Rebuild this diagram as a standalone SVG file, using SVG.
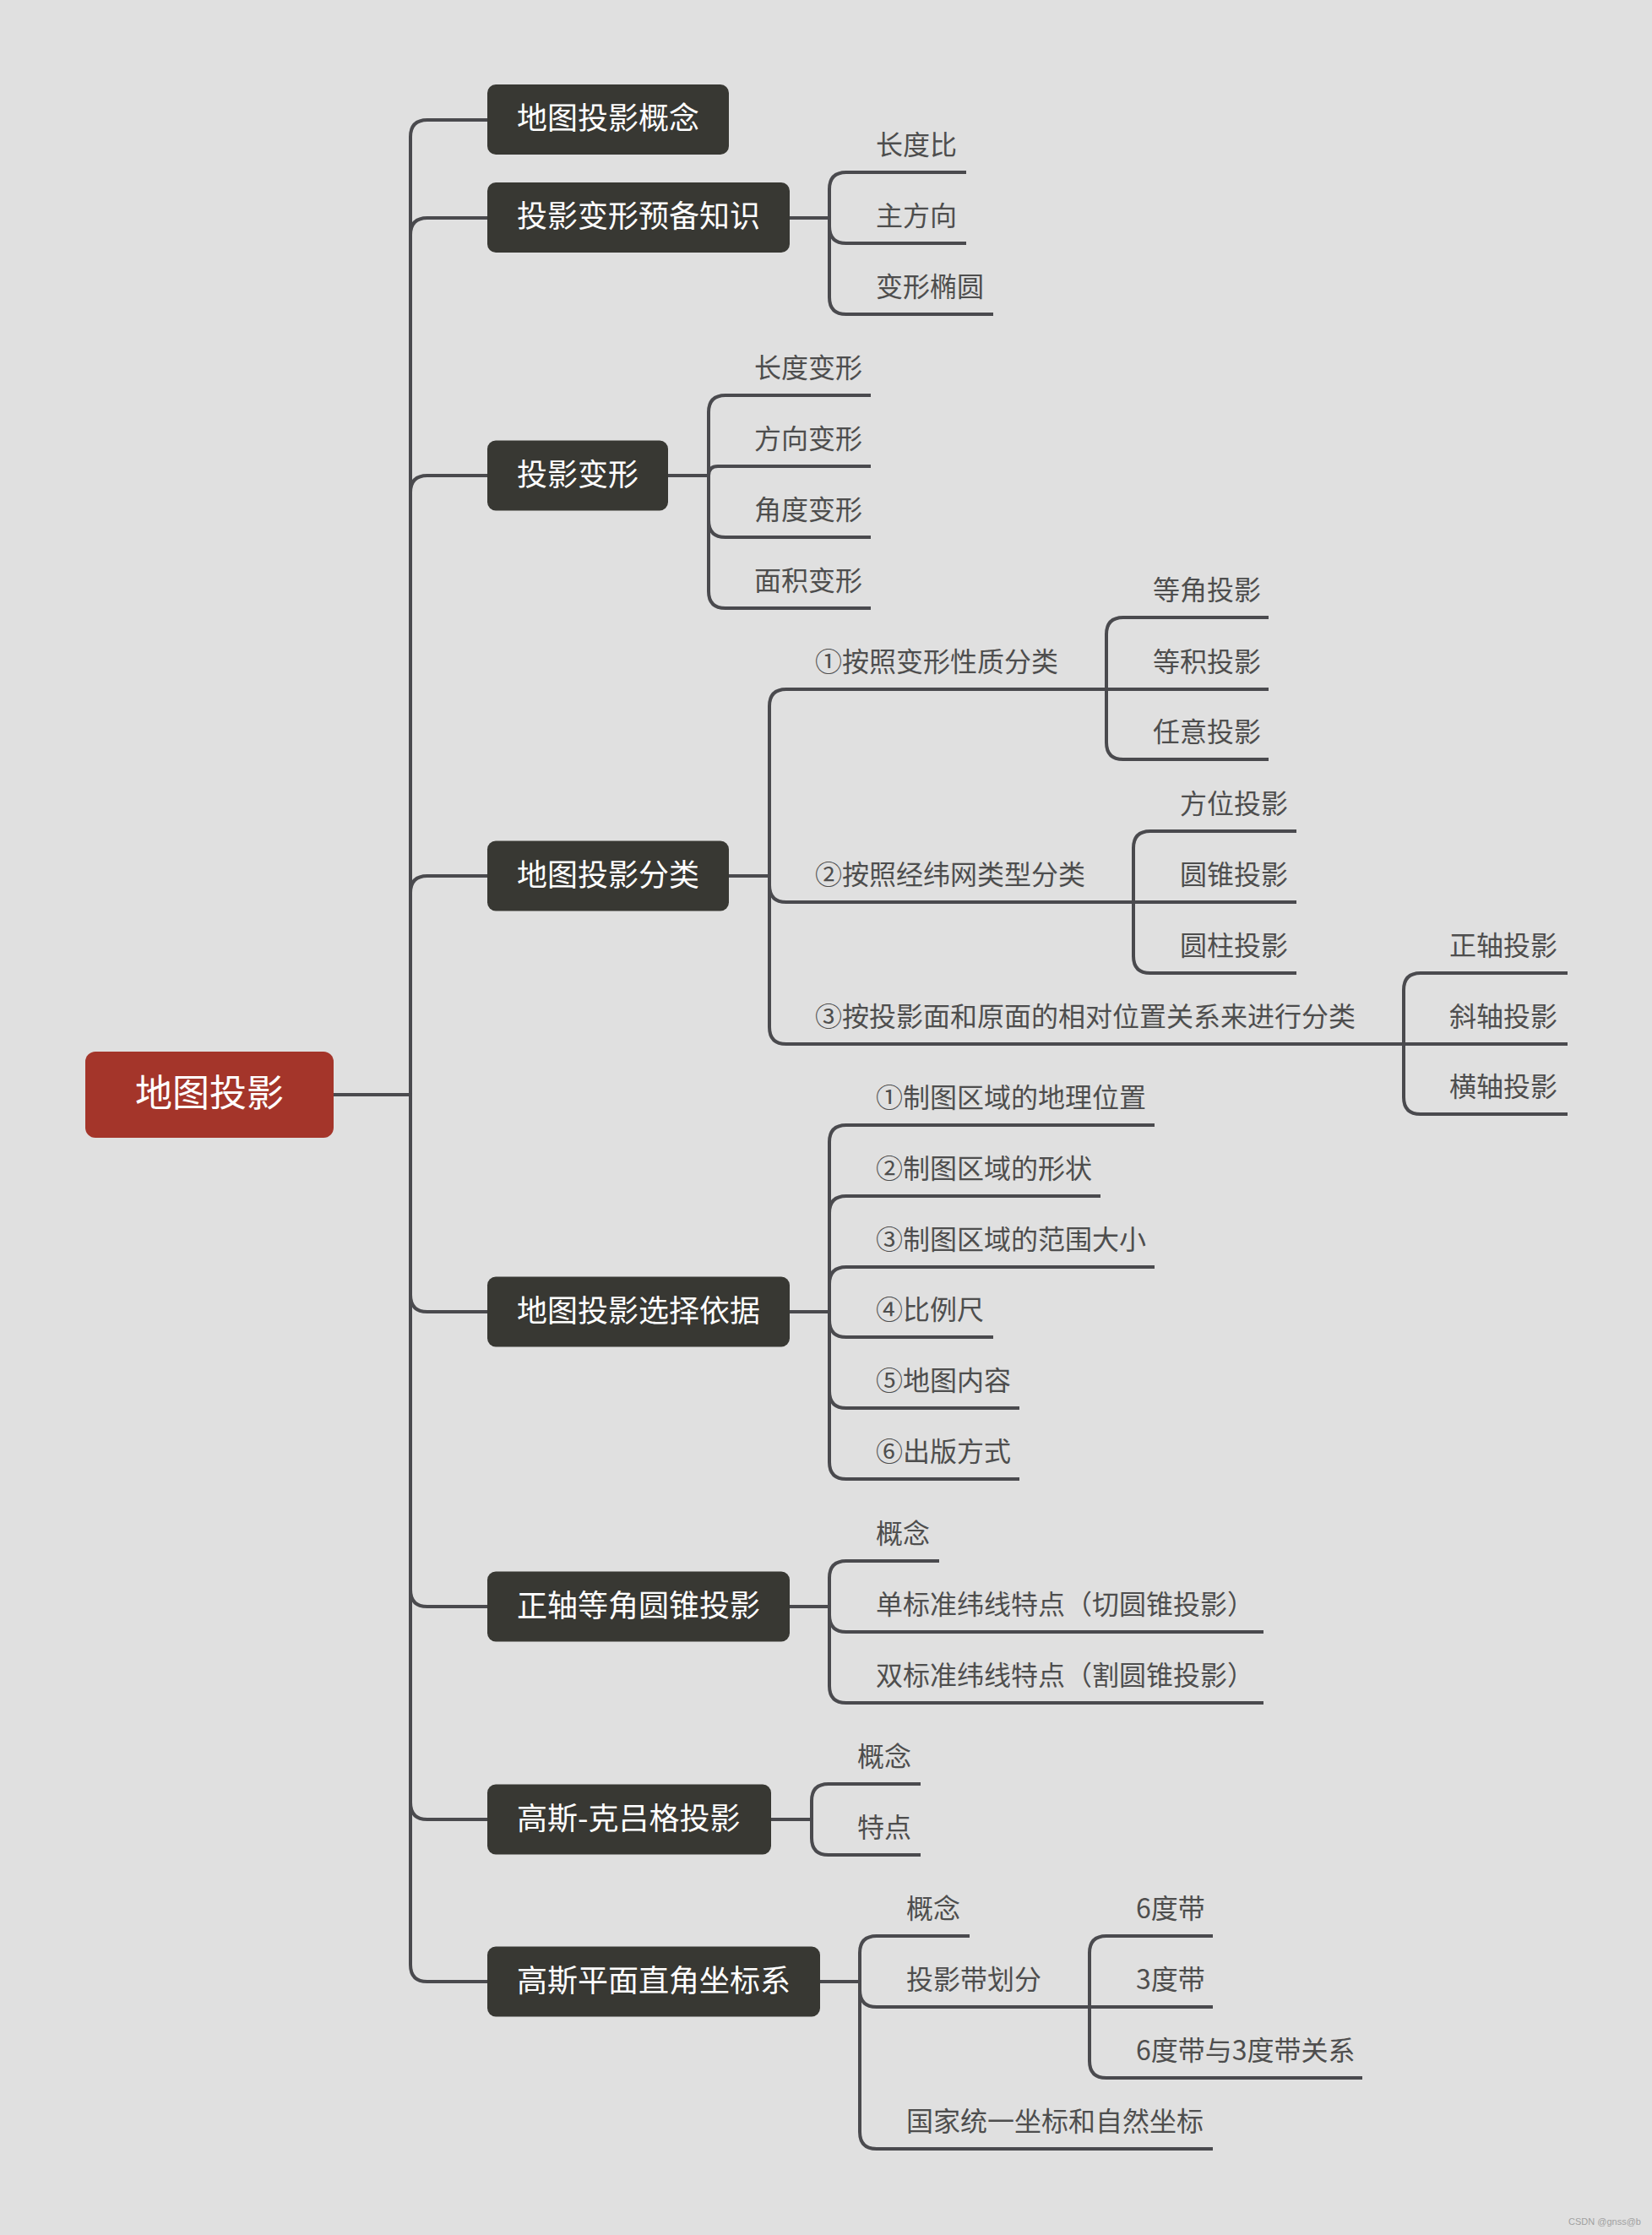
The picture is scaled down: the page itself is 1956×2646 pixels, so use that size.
<svg xmlns="http://www.w3.org/2000/svg" width="1956" height="2646" viewBox="0 0 1956 2646">
<style>
.bg{fill:#e0e0e0}
.ln{fill:none;stroke:#4a4a4e;stroke-width:4;stroke-linejoin:round}
.nd{fill:#383833}
.root{fill:#a4352a}
.t1{font-family:"Noto Sans CJK SC","Noto Sans",sans-serif;font-size:36px;fill:#ffffff}
.t0{font-family:"Noto Sans CJK SC","Noto Sans",sans-serif;font-size:44px;fill:#ffffff;text-anchor:middle}
.t2{font-family:"Noto Sans CJK SC","Noto Sans",sans-serif;font-size:32px;fill:#4e4e4e}
.wm{font-family:"Liberation Sans",sans-serif;font-size:11px;fill:#a0a0a0}
</style>
<rect class="bg" x="0" y="0" width="1956" height="2646"/>
<g id="connectors">
<path class="ln" d="M395 1296 H486 V162 Q486 142 506 142 H577"/>
<path class="ln" d="M395 1296 H486 V278 Q486 258 506 258 H577"/>
<path class="ln" d="M395 1296 H486 V583 Q486 563 506 563 H577"/>
<path class="ln" d="M395 1296 H486 V1057 Q486 1037 506 1037 H577"/>
<path class="ln" d="M395 1296 H486 V1533 Q486 1553 506 1553 H577"/>
<path class="ln" d="M395 1296 H486 V1882 Q486 1902 506 1902 H577"/>
<path class="ln" d="M395 1296 H486 V2134 Q486 2154 506 2154 H577"/>
<path class="ln" d="M395 1296 H486 V2326 Q486 2346 506 2346 H577"/>

<path class="ln" d="M935 258 H982 V224 Q982 204 1002 204 H1144"/>
<path class="ln" d="M935 258 H982 V268 Q982 288 1002 288 H1144"/>
<path class="ln" d="M935 258 H982 V352 Q982 372 1002 372 H1176"/>

<path class="ln" d="M791 563 H839 V488 Q839 468 859 468 H1031"/>
<path class="ln" d="M791 563 H839 V563 Q839 552 850 552 H1031"/>
<path class="ln" d="M791 563 H839 V616 Q839 636 859 636 H1031"/>
<path class="ln" d="M791 563 H839 V700 Q839 720 859 720 H1031"/>

<path class="ln" d="M863 1037 H911 V836 Q911 816 931 816 H1310"/>
<path class="ln" d="M863 1037 H911 V1048 Q911 1068 931 1068 H1342"/>
<path class="ln" d="M863 1037 H911 V1216 Q911 1236 931 1236 H1662"/>

<path class="ln" d="M1310 816 V751 Q1310 731 1330 731 H1502"/>
<path class="ln" d="M1310 816 H1502"/>
<path class="ln" d="M1310 816 V879 Q1310 899 1330 899 H1502"/>

<path class="ln" d="M1342 1068 V1004 Q1342 984 1362 984 H1535"/>
<path class="ln" d="M1342 1068 H1535"/>
<path class="ln" d="M1342 1068 V1132 Q1342 1152 1362 1152 H1535"/>

<path class="ln" d="M1662 1236 V1172 Q1662 1152 1682 1152 H1856"/>
<path class="ln" d="M1662 1236 H1856"/>
<path class="ln" d="M1662 1236 V1299 Q1662 1319 1682 1319 H1856"/>

<path class="ln" d="M935 1553 H982 V1352 Q982 1332 1002 1332 H1367"/>
<path class="ln" d="M935 1553 H982 V1436 Q982 1416 1002 1416 H1303"/>
<path class="ln" d="M935 1553 H982 V1520 Q982 1500 1002 1500 H1367"/>
<path class="ln" d="M935 1553 H982 V1563 Q982 1583 1002 1583 H1176"/>
<path class="ln" d="M935 1553 H982 V1647 Q982 1667 1002 1667 H1207"/>
<path class="ln" d="M935 1553 H982 V1731 Q982 1751 1002 1751 H1207"/>

<path class="ln" d="M935 1902 H982 V1868 Q982 1848 1002 1848 H1112"/>
<path class="ln" d="M935 1902 H982 V1912 Q982 1932 1002 1932 H1496"/>
<path class="ln" d="M935 1902 H982 V1996 Q982 2016 1002 2016 H1496"/>

<path class="ln" d="M913 2154 H961 V2132 Q961 2112 981 2112 H1090"/>
<path class="ln" d="M913 2154 H961 V2176 Q961 2196 981 2196 H1090"/>

<path class="ln" d="M971 2346 H1018 V2312 Q1018 2292 1038 2292 H1148"/>
<path class="ln" d="M971 2346 H1018 V2356 Q1018 2376 1038 2376 H1290"/>
<path class="ln" d="M971 2346 H1018 V2524 Q1018 2544 1038 2544 H1436"/>

<path class="ln" d="M1290 2376 V2312 Q1290 2292 1310 2292 H1436"/>
<path class="ln" d="M1290 2376 H1436"/>
<path class="ln" d="M1290 2376 V2440 Q1290 2460 1310 2460 H1613"/>
</g>

<g id="root">
<rect class="root" x="101" y="1245" width="294" height="102" rx="12"/>
<text class="t0" x="248" y="1310">地图投影</text>
</g>

<g id="n1"><rect class="nd" x="577" y="100" width="286" height="83" rx="10"/><text class="t1" x="612" y="153">地图投影概念</text></g>
<g id="n2"><rect class="nd" x="577" y="216" width="358" height="83" rx="10"/><text class="t1" x="612" y="269">投影变形预备知识</text></g>
<g id="n3"><rect class="nd" x="577" y="521.5" width="214" height="83" rx="10"/><text class="t1" x="612" y="574.5">投影变形</text></g>
<g id="n4"><rect class="nd" x="577" y="995.5" width="286" height="83" rx="10"/><text class="t1" x="612" y="1048.5">地图投影分类</text></g>
<g id="n5"><rect class="nd" x="577" y="1511.5" width="358" height="83" rx="10"/><text class="t1" x="612" y="1564.5">地图投影选择依据</text></g>
<g id="n6"><rect class="nd" x="577" y="1860.5" width="358" height="83" rx="10"/><text class="t1" x="612" y="1913.5">正轴等角圆锥投影</text></g>
<g id="n7"><rect class="nd" x="577" y="2112.5" width="336" height="83" rx="10"/><text class="t1" x="612" y="2165.5">高斯-克吕格投影</text></g>
<g id="n8"><rect class="nd" x="577" y="2304.5" width="394" height="83" rx="10"/><text class="t1" x="612" y="2357.5">高斯平面直角坐标系</text></g>

<g id="n2-children">
<text class="t2" x="1037" y="182.5">长度比</text>
<text class="t2" x="1037" y="266.5">主方向</text>
<text class="t2" x="1037" y="350.5">变形椭圆</text>
</g>
<g id="n3-children">
<text class="t2" x="893" y="446.5">长度变形</text>
<text class="t2" x="893" y="530.5">方向变形</text>
<text class="t2" x="893" y="614.5">角度变形</text>
<text class="t2" x="893" y="698.5">面积变形</text>
</g>
<g id="n4-children">
<text class="t2" x="965" y="794.5">①按照变形性质分类</text>
<text class="t2" x="965" y="1046.5">②按照经纬网类型分类</text>
<text class="t2" x="965" y="1214.5">③按投影面和原面的相对位置关系来进行分类</text>
</g>
<g id="n4-1-children">
<text class="t2" x="1365" y="709.5">等角投影</text>
<text class="t2" x="1365" y="794.5">等积投影</text>
<text class="t2" x="1365" y="877.5">任意投影</text>
</g>
<g id="n4-2-children">
<text class="t2" x="1397" y="962.5">方位投影</text>
<text class="t2" x="1397" y="1046.5">圆锥投影</text>
<text class="t2" x="1397" y="1130.5">圆柱投影</text>
</g>
<g id="n4-3-children">
<text class="t2" x="1716" y="1130.5">正轴投影</text>
<text class="t2" x="1716" y="1214.5">斜轴投影</text>
<text class="t2" x="1716" y="1297.5">横轴投影</text>
</g>
<g id="n5-children">
<text class="t2" x="1037" y="1310.5">①制图区域的地理位置</text>
<text class="t2" x="1037" y="1394.5">②制图区域的形状</text>
<text class="t2" x="1037" y="1478.5">③制图区域的范围大小</text>
<text class="t2" x="1037" y="1561.5">④比例尺</text>
<text class="t2" x="1037" y="1645.5">⑤地图内容</text>
<text class="t2" x="1037" y="1729.5">⑥出版方式</text>
</g>
<g id="n6-children">
<text class="t2" x="1037" y="1826.5">概念</text>
<text class="t2" x="1037" y="1910.5">单标准纬线特点（切圆锥投影）</text>
<text class="t2" x="1037" y="1994.5">双标准纬线特点（割圆锥投影）</text>
</g>
<g id="n7-children">
<text class="t2" x="1015" y="2090.5">概念</text>
<text class="t2" x="1015" y="2174.5">特点</text>
</g>
<g id="n8-children">
<text class="t2" x="1073" y="2270.5">概念</text>
<text class="t2" x="1073" y="2354.5">投影带划分</text>
<text class="t2" x="1073" y="2522.5">国家统一坐标和自然坐标</text>
</g>
<g id="n8-2-children">
<text class="t2" x="1345" y="2270.5">6度带</text>
<text class="t2" x="1345" y="2354.5">3度带</text>
<text class="t2" x="1345" y="2438.5">6度带与3度带关系</text>
</g>
<text class="wm" x="1857" y="2634">CSDN @gnss@b</text>
</svg>
